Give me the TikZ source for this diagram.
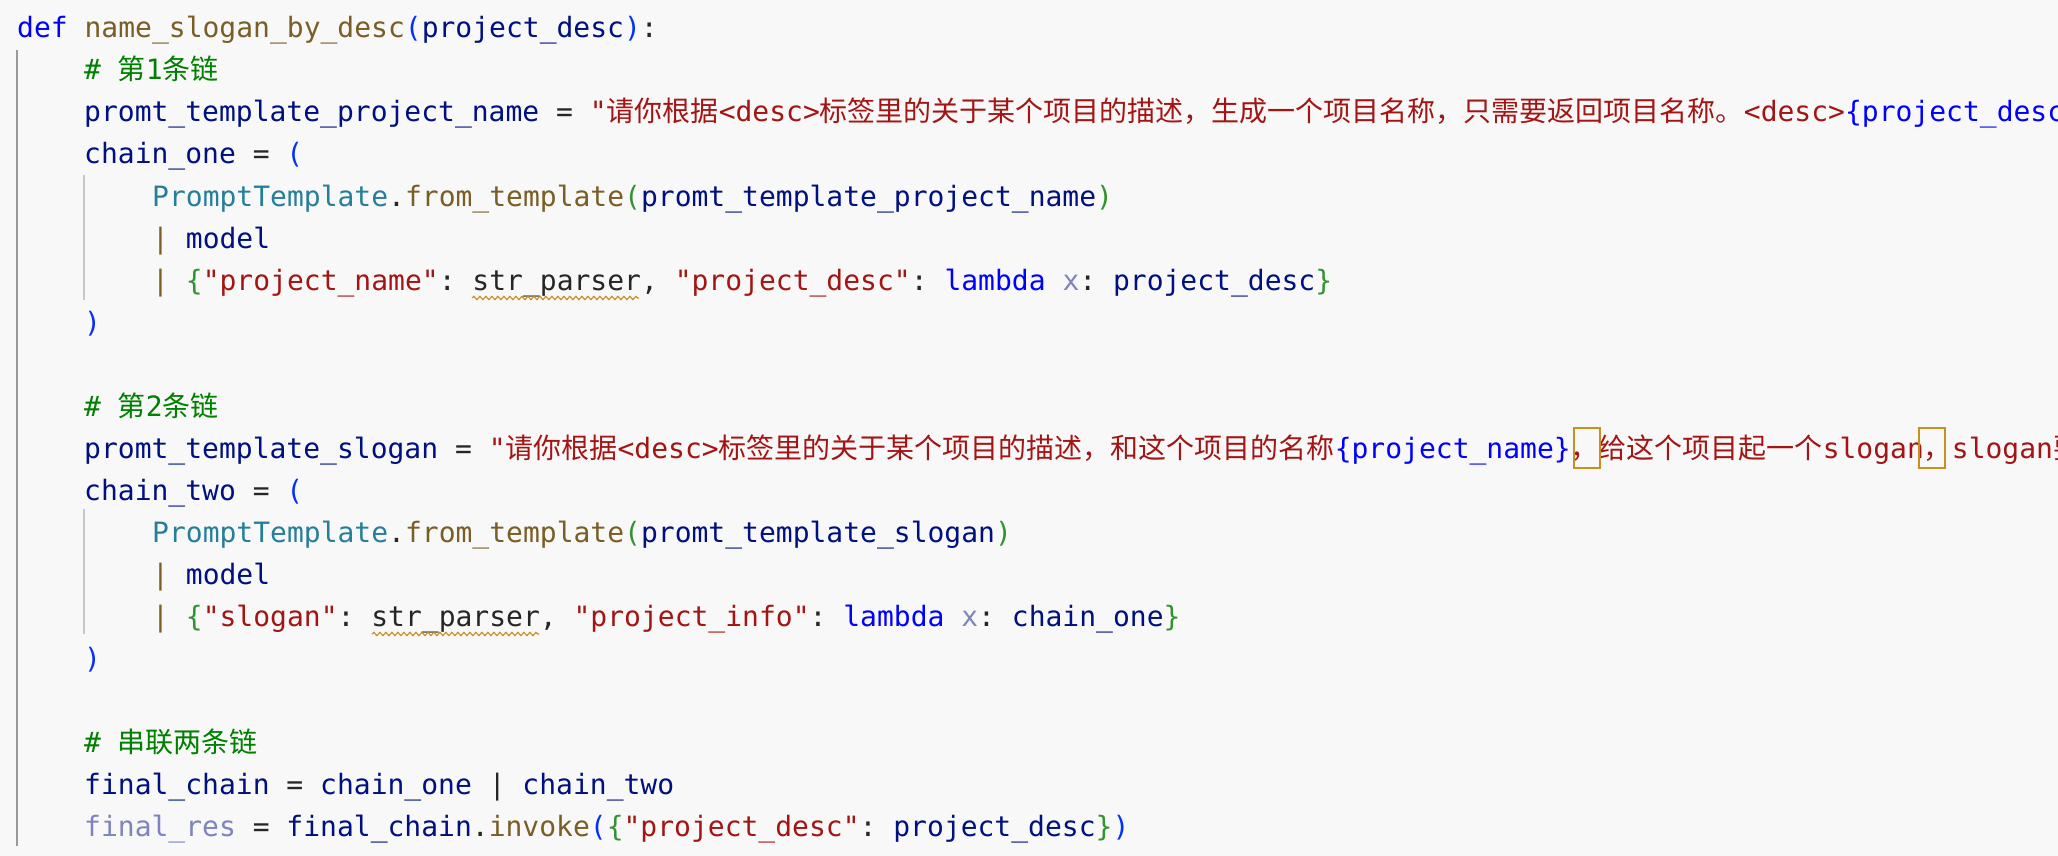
\documentclass[tikz,border=0pt]{standalone}
\usepackage{fontspec}
\setmonofont{DejaVu Sans Mono}
\newfontfamily\cjk{Noto Sans CJK SC}
\usetikzlibrary{decorations.pathmorphing}
\definecolor{bg}{HTML}{F8F8F8}
\definecolor{kw}{HTML}{0000FF}
\definecolor{fn}{HTML}{795E26}
\definecolor{vr}{HTML}{001080}
\definecolor{cm}{HTML}{008000}
\definecolor{st}{HTML}{A31515}
\definecolor{ty}{HTML}{267F99}
\definecolor{bA}{HTML}{0431FA}
\definecolor{bB}{HTML}{319331}
\definecolor{dim}{HTML}{7F84BC}
\definecolor{wav}{HTML}{C8901E}
\definecolor{guide}{HTML}{C8C8C8}
\newcommand\K[1]{{\cjk #1}}
\newcommand\ck[1]{\textcolor{kw}{#1}}
\newcommand\cf[1]{\textcolor{fn}{#1}}
\newcommand\cv[1]{\textcolor{vr}{#1}}
\newcommand\cc[1]{\textcolor{cm}{#1}}
\newcommand\cst[1]{\textcolor{st}{#1}}
\newcommand\cty[1]{\textcolor{ty}{#1}}
\newcommand\ca[1]{\textcolor{bA}{#1}}
\newcommand\cb[1]{\textcolor{bB}{#1}}
\newcommand\cd[1]{\textcolor{dim}{#1}}
\tikzset{codeline/.style={anchor=base west, inner sep=0pt, font=\ttfamily\fontsize{28}{34}\selectfont, text=black!85},
guideline/.style={draw=guide, line width=1.6pt},
squig/.style={wav, line width=1.2pt, decorate, decoration={snake, amplitude=1.6pt, segment length=6pt}},
warnbox/.style={wav, line width=1.8pt}}
\begin{document}
\begin{tikzpicture}[x=1pt,y=-1pt]
\fill[bg] (0,0) rectangle (2058,856);
\useasboundingbox (0,0) rectangle (2058,856);
\clip (0,0) rectangle (2058,856);
\draw[guideline, draw=black!40] (17,50) -- (17,846);
\draw[guideline] (84,175) -- (84,300);
\draw[guideline] (84,509) -- (84,634);
\def\ax{17}\def\bx{84}\def\cx{152}
\node[codeline] (l0) at (\ax,38) {\ck{def} \cf{name\_slogan\_by\_desc}\ca{(}\cv{project\_desc}\ca{)}:};
\node[codeline] (l1) at (\bx,80) {\cc{\# \K{第}1\K{条链}}};
\node[codeline] (l2) at (\bx,122) {\cv{promt\_template\_project\_name} = \cst{"\K{请你根据}<desc>\K{标签里的关于某个项目的描述，生成一个项目名称，只需要返回项目名称。}<desc>}\ck{\{project\_desc\}}\cst{</desc>"}};
\node[codeline] (l3) at (\bx,164) {\cv{chain\_one} = \ca{(}};
\node[codeline] (l4) at (\cx,206) {\cty{PromptTemplate}.\cf{from\_template}\cb{(}\cv{promt\_template\_project\_name}\cb{)}};
\node[codeline] (l5) at (\cx,248) {\cf{|} \cv{model}};
\node[codeline] (l6) at (\cx,290) {\cf{|} \cb{\{}\cst{"project\_name"}: str\_parser, \cst{"project\_desc"}: \ck{lambda} \cd{x}: \cv{project\_desc}\cb{\}}};
\node[codeline] (l7) at (\bx,332) {\ca{)}};
\node[codeline] (l9) at (\bx,416) {\cc{\# \K{第}2\K{条链}}};
\node[codeline] (l10) at (\bx,458) {\cv{promt\_template\_slogan} = \cst{"\K{请你根据}<desc>\K{标签里的关于某个项目的描述，和这个项目的名称}}\ck{\{project\_name\}}\cst{\K{，给这个项目起一个}slogan\K{，}slogan\K{要}}};
\node[codeline] (l11) at (\bx,500) {\cv{chain\_two} = \ca{(}};
\node[codeline] (l12) at (\cx,542) {\cty{PromptTemplate}.\cf{from\_template}\cb{(}\cv{promt\_template\_slogan}\cb{)}};
\node[codeline] (l13) at (\cx,584) {\cf{|} \cv{model}};
\node[codeline] (l14) at (\cx,626) {\cf{|} \cb{\{}\cst{"slogan"}: str\_parser, \cst{"project\_info"}: \ck{lambda} \cd{x}: \cv{chain\_one}\cb{\}}};
\node[codeline] (l15) at (\bx,668) {\ca{)}};
\node[codeline] (l17) at (\bx,752) {\cc{\# \K{串联两条链}}};
\node[codeline] (l18) at (\bx,794) {\cv{final\_chain} = \cv{chain\_one} | \cv{chain\_two}};
\node[codeline] (l19) at (\bx,836) {\cd{final\_res} = \cv{final\_chain}.\cf{invoke}\ca{(}\cb{\{}\cst{"project\_desc"}: \cv{project\_desc}\cb{\}}\ca{)}};
\draw[squig] (472,298) -- (639,298);
\draw[squig] (372,634) -- (539,634);
\draw[warnbox] (1574,428) rectangle (1600,468);
\draw[warnbox] (1919,428) rectangle (1945,468);
\end{tikzpicture}
\end{document}
